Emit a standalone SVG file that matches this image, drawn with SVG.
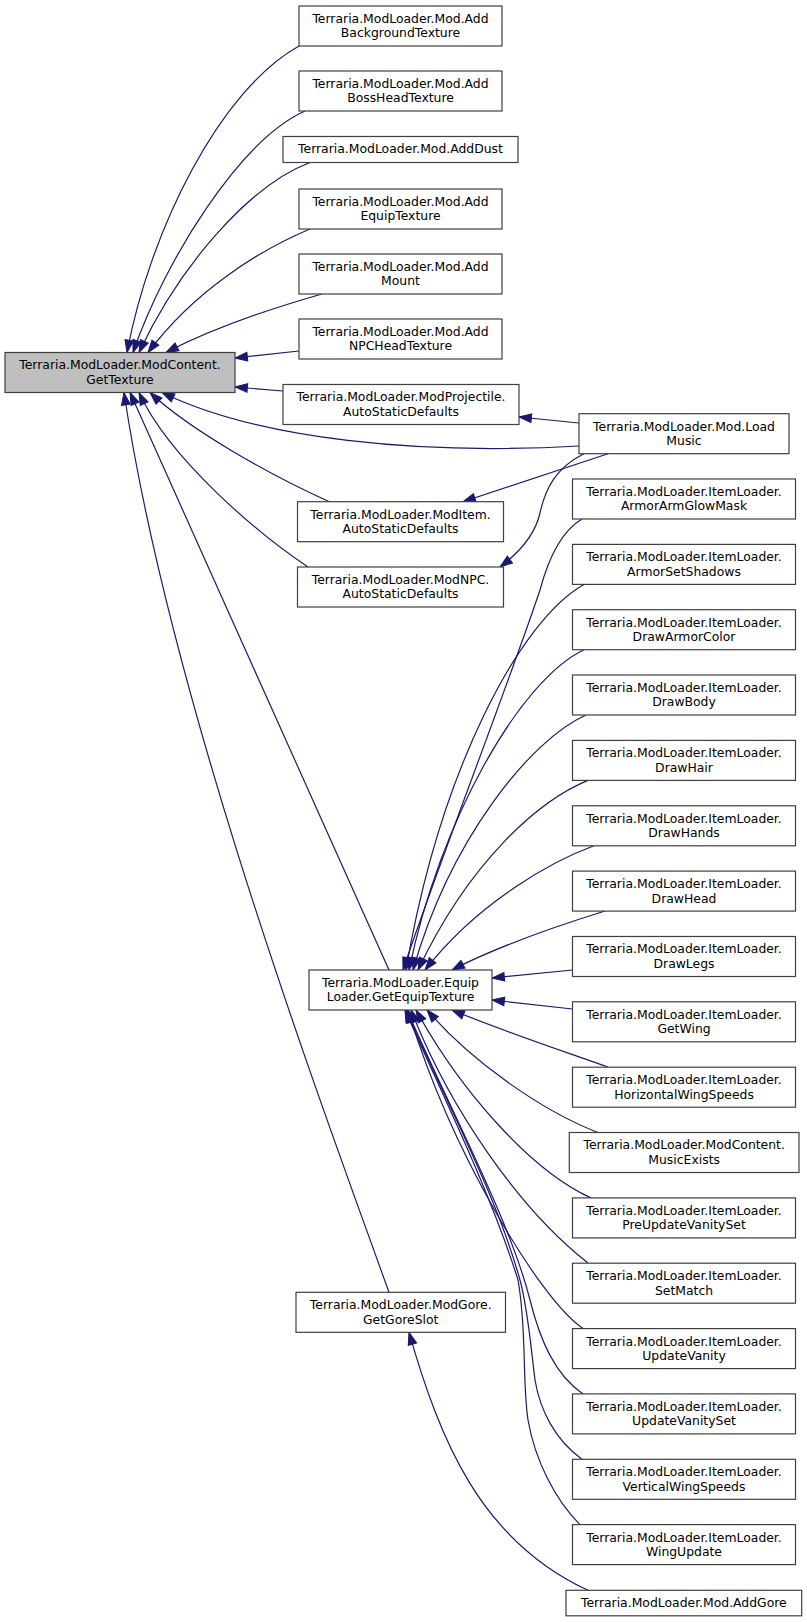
<svg xmlns="http://www.w3.org/2000/svg" width="807" height="1622" viewBox="0 0 807 1622">
<style>
.n rect{fill:#ffffff;stroke:#404040;stroke-width:1.2}
.n.root rect{fill:#bfbfbf}
.n text{font-family:"DejaVu Sans","Liberation Sans",sans-serif;font-size:12.4px;fill:#000;text-anchor:middle}
.e path{fill:none;stroke:#191970;stroke-width:1.2;marker-end:url(#ah)}
</style>
<defs>
<marker id="ah" markerUnits="userSpaceOnUse" markerWidth="15" markerHeight="11" viewBox="-1 -1 15 11" refX="12.4" refY="4.35" orient="auto">
<path d="M0,0 L12.4,4.35 L0,8.7 z" fill="#191970" stroke="#191970" stroke-width="1"/>
</marker>
</defs>
<rect x="0" y="0" width="807" height="1622" fill="#ffffff"/>
<g id="connectors" class="e">
<path d="M299,46 C220,90 150,230 127,352.5"/>
<path d="M305,111 C240,140 165,260 133,352.5"/>
<path d="M310,162.5 C250,185 180,265 139,352.5"/>
<path d="M310,229 C260,250 195,290 148,352.5"/>
<path d="M322,294 C280,306 215,327 166,352.5"/>
<path d="M299,351 L235,358"/>
<path d="M283,391 L235,387"/>
<path d="M579,446 C420,455 260,440 162,392.5"/>
<path d="M330,502 C270,475 190,430 150,392.5"/>
<path d="M308,567 C260,535 170,460 139,392.5"/>
<path d="M389,970 L130,392.5"/>
<path d="M389,1292.3 C320,1100 170,700 124,392.5"/>
<path d="M579,423 L519,417"/>
<path d="M608,453.7 L463,501.7"/>
<path d="M584,453.7 C555,468 545,490 540,513 C535,535 520,552 500,567"/>
<path d="M588,1590.3 C480,1540 440,1440 409,1332.3"/>
<path d="M572.5,970 L492,978"/>
<path d="M572.5,1009 L492,1000"/>
<path d="M605,911 C560,925 500,945 452,970"/>
<path d="M594,845.8 C555,860 480,900 425,970"/>
<path d="M588,780.4 C540,800 470,860 418,970"/>
<path d="M586,715 C530,740 450,840 413,970"/>
<path d="M584,649.7 C520,680 440,820 409,970"/>
<path d="M584,584.4 C520,620 440,770 406,970"/>
<path d="M582,519 C560,532 548,560 540,590 C510,680 440,860 403,970"/>
<path d="M608,1067 C560,1050 500,1030 452,1010"/>
<path d="M598,1132.5 C540,1110 470,1060 427,1010"/>
<path d="M591,1197.9 C530,1170 460,1090 416,1010"/>
<path d="M588,1263 C520,1210 450,1110 411,1010"/>
<path d="M583,1328.5 C540,1300 450,1150 408,1010"/>
<path d="M583,1393.9 C555,1375 540,1340 530,1300 C510,1220 450,1110 407,1010"/>
<path d="M582,1459.2 C555,1440 540,1410 535,1380 C530,1340 528,1310 520,1280 C495,1190 440,1090 406,1010"/>
<path d="M580,1524.6 C555,1500 535,1460 528,1420 C522,1380 527,1330 518,1280 C490,1190 440,1090 405,1010"/>
</g>
<g id="n_GetTexture" class="n root"><rect x="5" y="352.5" width="230" height="40"/><text x="120" y="369.4">Terraria.ModLoader.ModContent.</text><text x="120" y="383.9">GetTexture</text></g>
<g id="n_AddBackgroundTexture" class="n"><rect x="299" y="6" width="203" height="40"/><text x="400.5" y="22.9">Terraria.ModLoader.Mod.Add</text><text x="400.5" y="37.4">BackgroundTexture</text></g>
<g id="n_AddBossHeadTexture" class="n"><rect x="299" y="71" width="203" height="40"/><text x="400.5" y="87.9">Terraria.ModLoader.Mod.Add</text><text x="400.5" y="102.4">BossHeadTexture</text></g>
<g id="n_AddDust" class="n"><rect x="283" y="136.5" width="235" height="26"/><text x="400.5" y="153.3">Terraria.ModLoader.Mod.AddDust</text></g>
<g id="n_AddEquipTexture" class="n"><rect x="299" y="189" width="203" height="40"/><text x="400.5" y="205.9">Terraria.ModLoader.Mod.Add</text><text x="400.5" y="220.4">EquipTexture</text></g>
<g id="n_AddMount" class="n"><rect x="299" y="254" width="203" height="40"/><text x="400.5" y="270.9">Terraria.ModLoader.Mod.Add</text><text x="400.5" y="285.4">Mount</text></g>
<g id="n_AddNPCHeadTexture" class="n"><rect x="299" y="319" width="203" height="40"/><text x="400.5" y="335.9">Terraria.ModLoader.Mod.Add</text><text x="400.5" y="350.4">NPCHeadTexture</text></g>
<g id="n_ModProjectile" class="n"><rect x="283" y="384.5" width="236" height="40"/><text x="401" y="401.4">Terraria.ModLoader.ModProjectile.</text><text x="401" y="415.9">AutoStaticDefaults</text></g>
<g id="n_LoadMusic" class="n"><rect x="579" y="413.7" width="210" height="40"/><text x="684" y="430.6">Terraria.ModLoader.Mod.Load</text><text x="684" y="445.1">Music</text></g>
<g id="n_ModItem" class="n"><rect x="297.5" y="501.7" width="206" height="40"/><text x="400.5" y="518.6">Terraria.ModLoader.ModItem.</text><text x="400.5" y="533.1">AutoStaticDefaults</text></g>
<g id="n_ModNPC" class="n"><rect x="297.5" y="567" width="206" height="40"/><text x="400.5" y="583.9">Terraria.ModLoader.ModNPC.</text><text x="400.5" y="598.4">AutoStaticDefaults</text></g>
<g id="n_GetEquipTexture" class="n"><rect x="309" y="970" width="183" height="40"/><text x="400.5" y="986.9">Terraria.ModLoader.Equip</text><text x="400.5" y="1001.4">Loader.GetEquipTexture</text></g>
<g id="n_GetGoreSlot" class="n"><rect x="296" y="1292.3" width="209.5" height="40"/><text x="400.75" y="1309.2">Terraria.ModLoader.ModGore.</text><text x="400.75" y="1323.7">GetGoreSlot</text></g>
<g id="n_ArmorArmGlowMask" class="n"><rect x="572.5" y="479" width="223" height="40"/><text x="684" y="495.9">Terraria.ModLoader.ItemLoader.</text><text x="684" y="510.4">ArmorArmGlowMask</text></g>
<g id="n_ArmorSetShadows" class="n"><rect x="572.5" y="544.4" width="223" height="40"/><text x="684" y="561.3">Terraria.ModLoader.ItemLoader.</text><text x="684" y="575.8">ArmorSetShadows</text></g>
<g id="n_DrawArmorColor" class="n"><rect x="572.5" y="609.7" width="223" height="40"/><text x="684" y="626.6">Terraria.ModLoader.ItemLoader.</text><text x="684" y="641.1">DrawArmorColor</text></g>
<g id="n_DrawBody" class="n"><rect x="572.5" y="675" width="223" height="40"/><text x="684" y="691.9">Terraria.ModLoader.ItemLoader.</text><text x="684" y="706.4">DrawBody</text></g>
<g id="n_DrawHair" class="n"><rect x="572.5" y="740.4" width="223" height="40"/><text x="684" y="757.3">Terraria.ModLoader.ItemLoader.</text><text x="684" y="771.8">DrawHair</text></g>
<g id="n_DrawHands" class="n"><rect x="572.5" y="805.8" width="223" height="40"/><text x="684" y="822.7">Terraria.ModLoader.ItemLoader.</text><text x="684" y="837.2">DrawHands</text></g>
<g id="n_DrawHead" class="n"><rect x="572.5" y="871.1" width="223" height="40"/><text x="684" y="888">Terraria.ModLoader.ItemLoader.</text><text x="684" y="902.5">DrawHead</text></g>
<g id="n_DrawLegs" class="n"><rect x="572.5" y="936.5" width="223" height="40"/><text x="684" y="953.4">Terraria.ModLoader.ItemLoader.</text><text x="684" y="967.9">DrawLegs</text></g>
<g id="n_GetWing" class="n"><rect x="572.5" y="1001.8" width="223" height="40"/><text x="684" y="1018.7">Terraria.ModLoader.ItemLoader.</text><text x="684" y="1033.2">GetWing</text></g>
<g id="n_HorizontalWingSpeeds" class="n"><rect x="572.5" y="1067.2" width="223" height="40"/><text x="684" y="1084.1">Terraria.ModLoader.ItemLoader.</text><text x="684" y="1098.6">HorizontalWingSpeeds</text></g>
<g id="n_MusicExists" class="n"><rect x="569.3" y="1132.5" width="229.7" height="40"/><text x="684.15" y="1149.4">Terraria.ModLoader.ModContent.</text><text x="684.15" y="1163.9">MusicExists</text></g>
<g id="n_PreUpdateVanitySet" class="n"><rect x="572.5" y="1197.9" width="223" height="40"/><text x="684" y="1214.8">Terraria.ModLoader.ItemLoader.</text><text x="684" y="1229.3">PreUpdateVanitySet</text></g>
<g id="n_SetMatch" class="n"><rect x="572.5" y="1263.2" width="223" height="40"/><text x="684" y="1280.1">Terraria.ModLoader.ItemLoader.</text><text x="684" y="1294.6">SetMatch</text></g>
<g id="n_UpdateVanity" class="n"><rect x="572.5" y="1328.6" width="223" height="40"/><text x="684" y="1345.5">Terraria.ModLoader.ItemLoader.</text><text x="684" y="1360">UpdateVanity</text></g>
<g id="n_UpdateVanitySet" class="n"><rect x="572.5" y="1393.9" width="223" height="40"/><text x="684" y="1410.8">Terraria.ModLoader.ItemLoader.</text><text x="684" y="1425.3">UpdateVanitySet</text></g>
<g id="n_VerticalWingSpeeds" class="n"><rect x="572.5" y="1459.3" width="223" height="40"/><text x="684" y="1476.2">Terraria.ModLoader.ItemLoader.</text><text x="684" y="1490.7">VerticalWingSpeeds</text></g>
<g id="n_WingUpdate" class="n"><rect x="572.5" y="1524.6" width="223" height="40"/><text x="684" y="1541.5">Terraria.ModLoader.ItemLoader.</text><text x="684" y="1556">WingUpdate</text></g>
<g id="n_AddGore" class="n"><rect x="566" y="1590.3" width="235.7" height="25.5"/><text x="683.85" y="1606.9">Terraria.ModLoader.Mod.AddGore</text></g>
</svg>
